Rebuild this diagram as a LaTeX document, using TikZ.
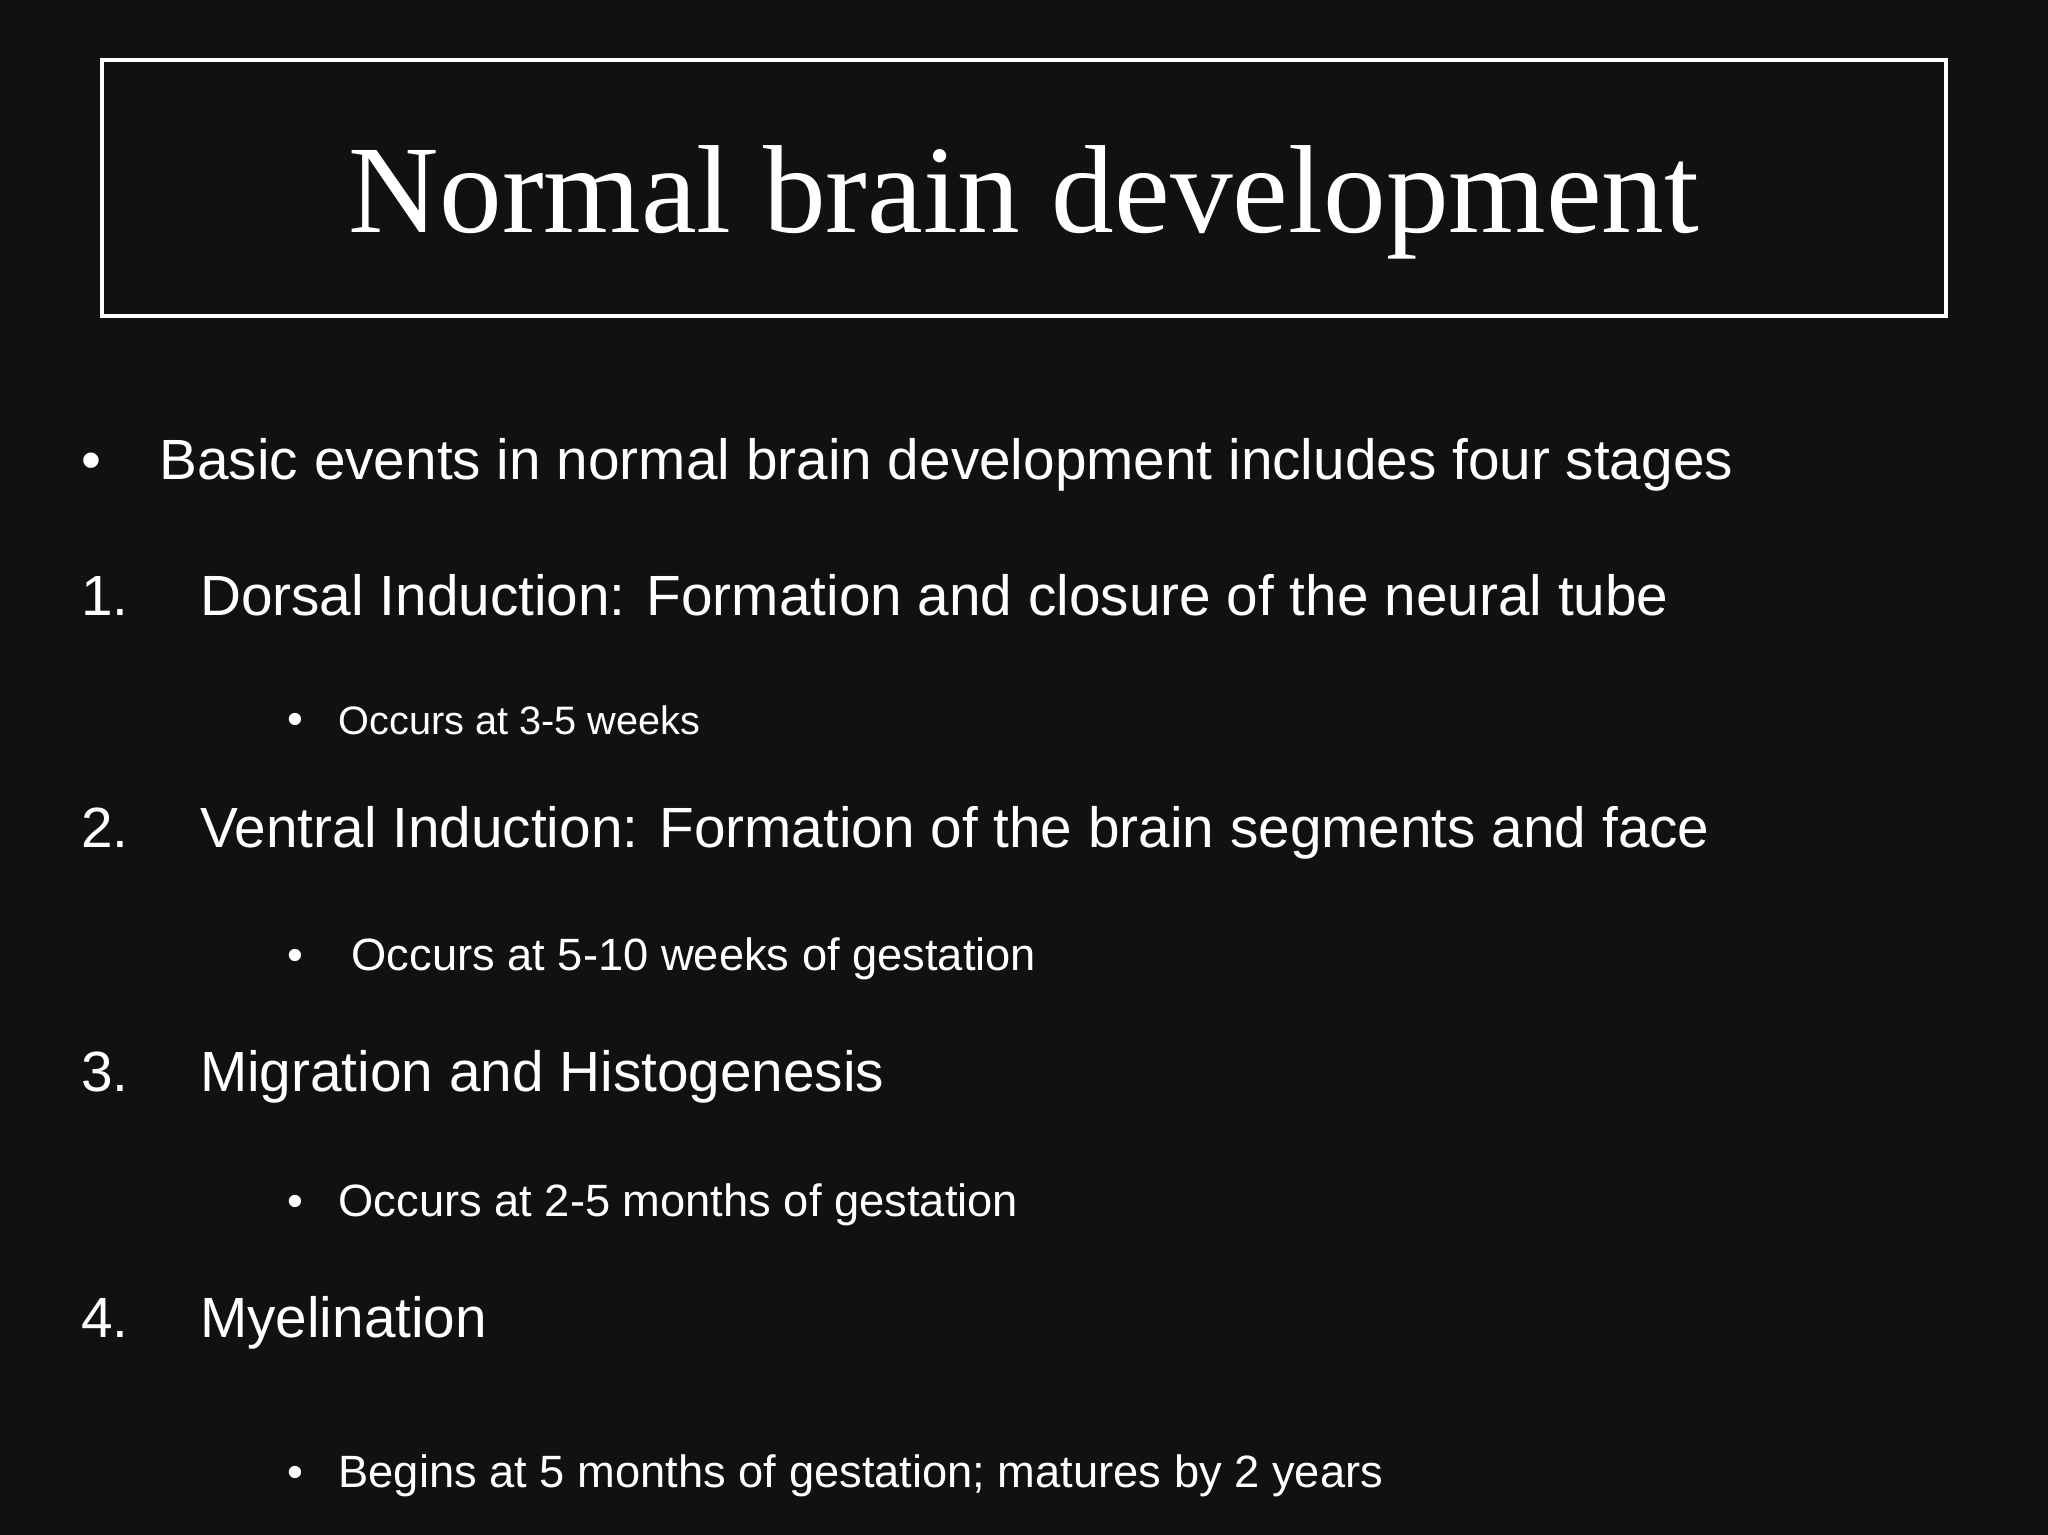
\documentclass[tikz,border=0pt]{standalone}
\usepackage{fontspec}
\setmainfont{Liberation Sans}
\newfontfamily\titlefont{Liberation Serif}
\begin{document}
\begin{tikzpicture}[x=1bp,y=-1bp,
  txt/.style={text=white,anchor=base west,inner sep=0pt},
  big/.style={txt,font=\fontsize{43.6}{50}\selectfont},
  small/.style={txt,font=\fontsize{34.8}{40}\selectfont},
  smaller/.style={txt,font=\fontsize{30.5}{36}\selectfont}]
\fill[fill={rgb,255:red,17;green,17;blue,17}] (0,0) rectangle (1568,1175);
\useasboundingbox (0,0) rectangle (1568,1175);
\draw[white,line width=3bp] (78,46) rectangle (1490,242);
\node[text=white,anchor=base,inner sep=0pt,font=\titlefont\fontsize{96.3}{110}\selectfont] (title) at (784,178) {Normal brain development};
\node[big] (b0) at (62,367) {•};
\node[big] (t0) at (122,367) {Basic events in normal brain development includes four stages};
\node[big] (n1) at (62,471) {1.};
\node[big] (t1) at (153,471) {Dorsal Induction: Formation and closure of the neural tube};
\node[small] (s1b) at (220,562) {•};
\node[smaller] (s1) at (259,562) {Occurs at 3-5 weeks};
\node[big] (n2) at (62,649) {2.};
\node[big] (t2) at (153,649) {Ventral Induction: Formation of the brain segments and face};
\node[small] (s2b) at (220,743) {•};
\node[small] (s2) at (269,743) {Occurs at 5-10 weeks of gestation};
\node[big] (n3) at (62,836) {3.};
\node[big] (t3) at (153,836) {Migration and Histogenesis};
\node[small] (s3b) at (220,931) {•};
\node[small] (s3) at (259,931) {Occurs at 2-5 months of gestation};
\node[big] (n4) at (62,1024) {4.};
\node[big] (t4) at (153,1024) {Myelination};
\node[small] (s4b) at (220,1139) {•};
\node[small] (s4) at (259,1139) {Begins at 5 months of gestation; matures by 2 years};
\end{tikzpicture}
\end{document}
